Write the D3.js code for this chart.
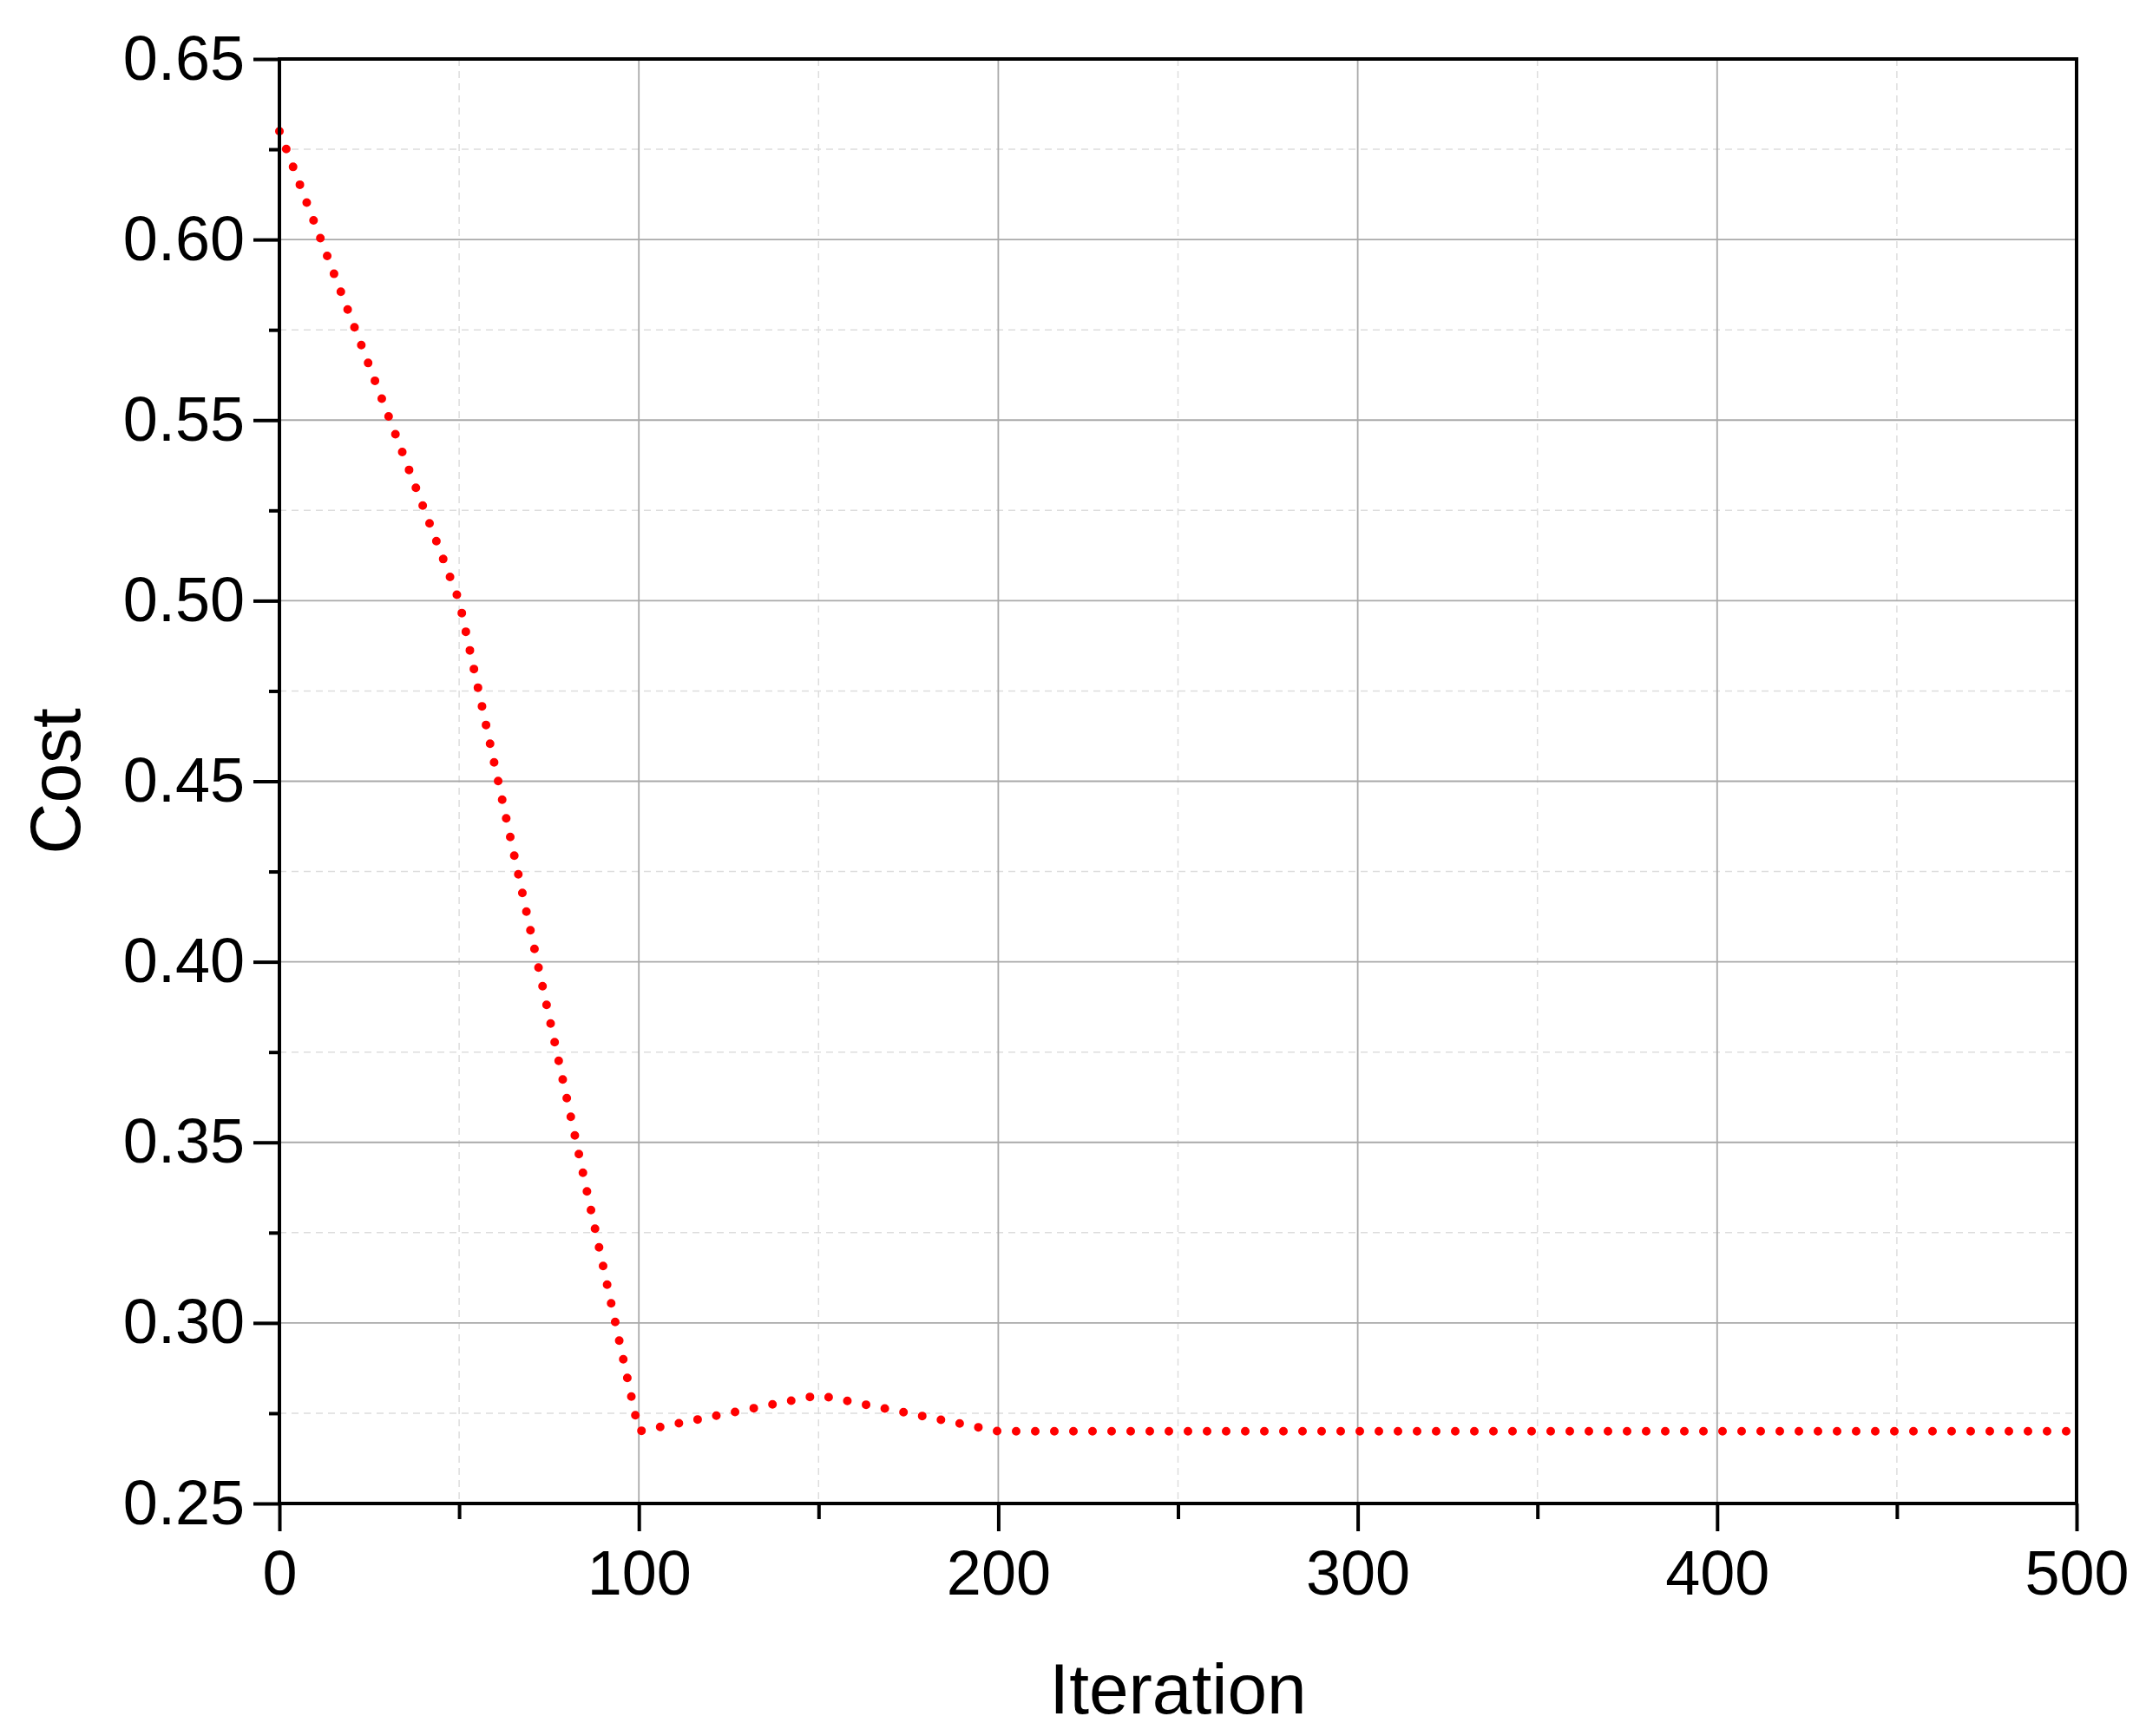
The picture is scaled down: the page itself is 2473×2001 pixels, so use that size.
<!DOCTYPE html>
<html><head><meta charset="utf-8">
<script src="https://cdn.jsdelivr.net/npm/d3@7"></script>
<style>body{margin:0;background:#fff}text{font-family:"Liberation Sans",Arial,sans-serif}</style>
</head><body>
<script>
// data
var iterations = [0, 50, 100, 150, 200, 250, 300, 350, 400, 450, 500];
var cost = [0.63, 0.50, 0.27, 0.28, 0.27, 0.27, 0.27, 0.27, 0.27, 0.27, 0.27];
var xTicks = [0, 100, 200, 300, 400, 500];
var yTicks = [0.25, 0.30, 0.35, 0.40, 0.45, 0.50, 0.55, 0.60, 0.65];

var W = 2473, H = 2001;
var m = {l: 322, r: 80, t: 68, b: 268};
var svg = d3.select("body").append("svg").attr("width", W).attr("height", H);
var x = d3.scaleLinear().domain([0, 500]).range([m.l, 2393]);
var y = d3.scaleLinear().domain([0.25, 0.65]).range([H - m.b, m.t]);

//网格
var minorX = d3.range(50, 500, 100), minorY = d3.range(0.275, 0.65, 0.05);
svg.selectAll(".gxm").data(minorX).enter().append("line")
  .attr("x1", x).attr("x2", x).attr("y1", m.t).attr("y2", H - m.b)
  .attr("stroke", "#ddd").attr("stroke-width", 1.5).attr("stroke-dasharray", "8,6");
svg.selectAll(".gym").data(minorY).enter().append("line")
  .attr("y1", y).attr("y2", y).attr("x1", m.l).attr("x2", x(500))
  .attr("stroke", "#ddd").attr("stroke-width", 1.5).attr("stroke-dasharray", "8,6");
svg.selectAll(".gx").data(xTicks).enter().append("line")
  .attr("x1", x).attr("x2", x).attr("y1", m.t).attr("y2", H - m.b)
  .attr("stroke", "#aaa").attr("stroke-width", 1.8);
svg.selectAll(".gy").data(yTicks).enter().append("line")
  .attr("y1", y).attr("y2", y).attr("x1", m.l).attr("x2", x(500))
  .attr("stroke", "#aaa").attr("stroke-width", 1.8);

// 曲线
svg.append("path").datum(iterations)
  .attr("d", d3.line().x(function(d){return x(d);}).y(function(d, i){return y(cost[i]);}))
  .attr("fill", "none").attr("stroke", "#ff0000").attr("stroke-width", 10)
  .attr("stroke-linecap", "round").attr("stroke-dasharray", "0,22");

// 坐标轴
var xa = svg.append("g").attr("transform", "translate(0," + (H - m.b) + ")")
  .call(d3.axisBottom(x).tickValues(d3.range(0, 501, 50)).tickSize(32).tickPadding(22)
    .tickFormat(function(d){return d % 100 === 0 ? d : "";}));
var ya = svg.append("g").attr("transform", "translate(" + m.l + ",0)")
  .call(d3.axisLeft(y).tickValues(d3.range(0.25, 0.651, 0.025)).tickSize(30).tickPadding(10)
    .tickFormat(function(d){var r = Math.round(d * 1000); return r % 50 === 0 ? d3.format(".2f")(d) : "";}));
[xa, ya].forEach(function(a){
  a.select(".domain").remove();
  a.selectAll("line").attr("stroke", "#000").attr("stroke-width", 4);
  a.selectAll("text").attr("font-size", 72).attr("fill", "#000");
});
xa.selectAll(".tick line").attr("y2", function(d){return d % 100 === 0 ? 32 : 18;});
ya.selectAll(".tick line").attr("x2", function(d){return Math.round(d*1000) % 50 === 0 ? -30 : -12;});
svg.append("rect").attr("x", m.l).attr("y", m.t).attr("width", x(500) - m.l).attr("height", H - m.t - m.b)
  .attr("fill", "none").attr("stroke", "#000").attr("stroke-width", 4);

svg.append("text").attr("x", x(250)).attr("y", 1975).attr("text-anchor", "middle")
  .attr("font-size", 82).text("Iteration");
svg.append("text").attr("transform", "translate(92," + y(0.45) + ") rotate(-90)")
  .attr("text-anchor", "middle").attr("font-size", 82).text("Cost");
</script>
</body></html>
